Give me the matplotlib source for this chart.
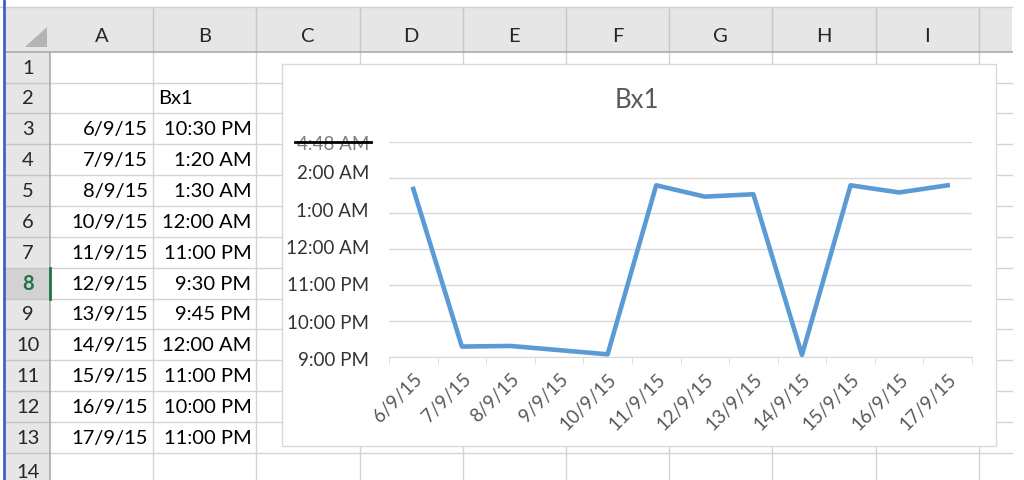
import matplotlib.pyplot as plt
import numpy as np
from matplotlib.patches import Rectangle, Polygon
from matplotlib.transforms import ScaledTranslation

plt.rcParams['font.family'] = ['Lato', 'DejaVu Sans']

# the worksheet cells (columns A and B)
sheet_dates = ['6/9/15', '7/9/15', '8/9/15', '10/9/15', '11/9/15', '12/9/15',
               '13/9/15', '14/9/15', '15/9/15', '16/9/15', '17/9/15']
sheet_times = ['10:30 PM', '1:20 AM', '1:30 AM', '12:00 AM', '11:00 PM', '9:30 PM',
               '9:45 PM', '12:00 AM', '11:00 PM', '10:00 PM', '11:00 PM']
sheet_header = 'Bx1'
col_letters = ['A', 'B', 'C', 'D', 'E', 'F', 'G', 'H', 'I']
n_rows = 14
selected_row = 8

# what the chart actually plots (24h clock)
chart_dates = ['6/9/15', '7/9/15', '8/9/15', '9/9/15', '10/9/15', '11/9/15',
               '12/9/15', '13/9/15', '14/9/15', '15/9/15', '16/9/15', '17/9/15']
chart_times = ['1:41', '21:17', '21:18', '21:11', '21:04', '1:47',
               '1:28', '1:32', '21:03', '1:47', '1:35', '1:47']
y_labels = ['9:00 PM', '10:00 PM', '11:00 PM', '12:00 AM', '1:00 AM', '2:00 AM', '4:48 AM']


def hours_after_9pm(t):
    h, m = map(int, t.split(':'))
    return (h - 21) % 24 + m / 60


chart_vals = [hours_after_9pm(t) for t in chart_times]

fig = plt.figure(figsize=(10.24, 4.8), dpi=100)

# --- spreadsheet background, drawn in pixel coords ---
bg = fig.add_axes([0, 0, 1, 1])
bg.set_xlim(0, 1024)
bg.set_ylim(480, 0)
bg.axis('off')

x0, col_w = 50, 103.2
y0, row_h = 51.7, 30.85
right_edge = 1012
col_edges = [x0 + k * col_w for k in range(10)]
row_edges = [y0 + k * row_h for k in range(n_rows + 1)]

grid_c = '#d4d4d4'
head_c = '#e6e6e6'
head_line = '#c6c6c6'

bg.add_patch(Rectangle((5, 7), right_edge - 5, y0 - 7, fc=head_c, ec='none'))
bg.add_patch(Rectangle((5, y0), x0 - 5, 480 - y0, fc=head_c, ec='none'))
r8 = row_edges[selected_row - 1]
bg.add_patch(Rectangle((5, r8), x0 - 5, row_h, fc='#d2d2d2', ec='none'))

for y in row_edges[1:]:
    bg.plot([x0, right_edge], [y, y], color=grid_c, lw=1)
    bg.plot([5, x0], [y, y], color=head_line, lw=1)
for x in col_edges[1:]:
    bg.plot([x, x], [y0, 480], color=grid_c, lw=1)
    bg.plot([x, x], [7, y0], color=head_line, lw=1)
bg.plot([5, right_edge], [y0, y0], color='#ababab', lw=1.2)
bg.plot([x0, x0], [y0, 480], color='#ababab', lw=1.2)
bg.plot([x0, x0], [r8, r8 + row_h], color='#217346', lw=2)
bg.plot([0, right_edge], [7, 7], color='#d0d0d0', lw=1)
bg.plot([4, 4], [0, 480], color='#3c64c8', lw=2)
bg.add_patch(Polygon([(25, 46.7), (46.7, 46.7), (46.7, 26.7)], fc='#b4b4b4', ec='none'))

for k, letter in enumerate(col_letters):
    bg.text((col_edges[k] + col_edges[k + 1]) / 2, 36, letter, ha='center', va='center',
            fontsize=14.5, color='#262626')
for r in range(1, n_rows + 1):
    yc = (row_edges[r - 1] + row_edges[r]) / 2 + 1
    if r == n_rows:
        yc += 3
    sel = r == selected_row
    bg.text(28, yc, str(r), ha='center', va='center', fontsize=14.5,
            color='#217346' if sel else '#262626', fontweight='bold' if sel else 'normal')

bg.text(col_edges[1] + 5, (row_edges[1] + row_edges[2]) / 2 + 1, sheet_header,
        ha='left', va='center', fontsize=14.5, color='#000000')
for i, (d, t) in enumerate(zip(sheet_dates, sheet_times)):
    yc = (row_edges[i + 2] + row_edges[i + 3]) / 2 + 1
    bg.text(col_edges[1] - 5, yc, d, ha='right', va='center', fontsize=14.5, color='#000000')
    bg.text(col_edges[2] - 5, yc, t, ha='right', va='center', fontsize=14.5, color='#000000')

# chart box
bg.add_patch(Rectangle((282, 64), 714, 382, fc='white', ec='#d9d9d9', lw=1, zorder=5))
bg.text(636.5, 100, sheet_header, ha='center', va='center', fontsize=18.5,
        color='#595959', zorder=6)

# --- the chart itself ---
ch = fig.add_axes([389 / 1024, (480 - 356.7) / 480, 583 / 1024, 215 / 480])
ch.set_facecolor('none')
ch.plot(range(len(chart_vals)), chart_vals, color='#5b9bd5', lw=3.3,
        solid_joinstyle='round', zorder=3)
ch.set_xlim(-0.5, len(chart_vals) - 0.5)
ch.set_ylim(0, 6)
for s in ['top', 'right', 'left']:
    ch.spines[s].set_visible(False)
ch.spines['bottom'].set_color('#d9d9d9')

ch.set_yticks(range(len(y_labels)), y_labels)
ch.yaxis.grid(True, color='#d9d9d9', lw=1)
ch.tick_params(axis='y', length=0, pad=14.4, labelsize=13.5, labelcolor='#333333')
# in the picture the labels sit on a slightly wider spacing than the gridlines
for k, lab in enumerate(ch.get_yticklabels()):
    dy = 2.3 - 1.47 * k if k < len(y_labels) - 1 else 1.0
    lab.set_transform(lab.get_transform() + ScaledTranslation(0, -dy / 100, fig.dpi_scale_trans))
ch.get_yticklabels()[-1].set_color('#7f7f7f')

ch.set_xticks(range(len(chart_dates)), chart_dates, rotation=45, ha='right', va='top',
              rotation_mode='anchor')
ch.tick_params(axis='x', which='major', length=0, pad=10, labelsize=13.5, labelcolor='#595959')
ch.set_xticks(np.arange(-0.5, len(chart_dates)), minor=True)
ch.tick_params(axis='x', which='minor', length=5, color='#d9d9d9', direction='out')

# the struck-through top label
ch.plot([295, 371], [142, 142], color='black', lw=2, transform=bg.transData, clip_on=False)

fig.savefig('out.png', dpi=100)
